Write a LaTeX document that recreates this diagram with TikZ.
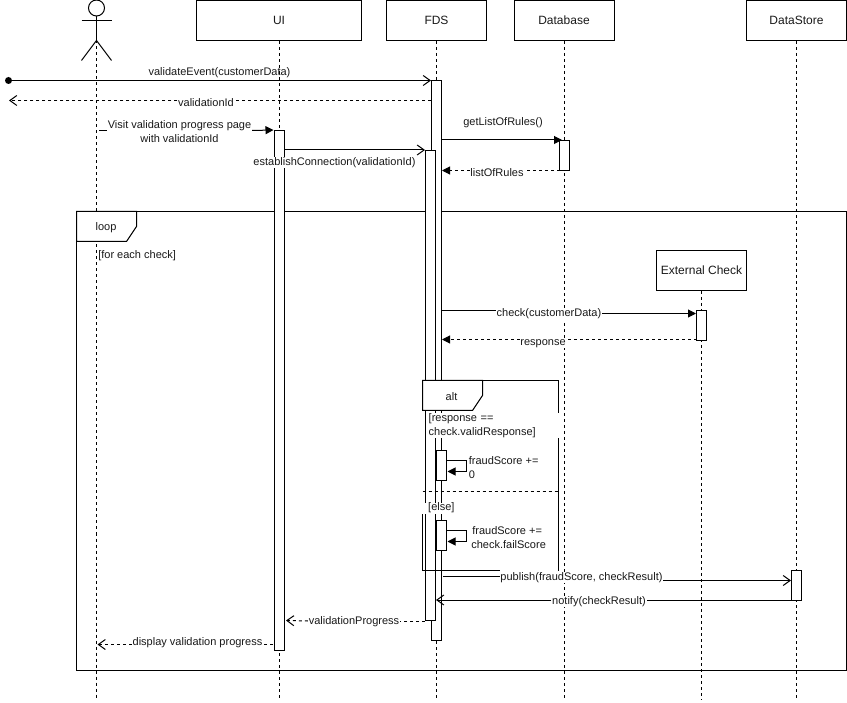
\documentclass[tikz,border=0pt]{standalone}
\usepackage{fontspec}
\setmainfont{Liberation Sans}
\usetikzlibrary{arrows.meta}
\tikzset{
  x=1pt,y=-1pt,
  every node/.style={font=\fontsize{11}{14}\selectfont,text=black!90},
  ln/.style={draw=black,line width=1pt},
  life/.style={draw=black,line width=1pt,dash pattern=on 3pt off 3pt},
  headbox/.style={rectangle,draw=black,line width=1pt,fill=white,minimum height=40pt,inner sep=0pt,font=\fontsize{12}{14}\selectfont},
  actbox/.style={rectangle,draw=black,line width=1pt,fill=white,minimum width=10pt,inner sep=0pt},
  lbl/.style={fill=white,inner sep=0.6pt,align=center,yshift=-1.5pt},
  lbll/.style={fill=white,inner sep=0.6pt,align=left,yshift=-1.5pt},
  plain/.style={inner sep=0pt,align=center,yshift=-1.5pt},
  msg/.style={draw=black,line width=1pt},
  dmsg/.style={draw=black,line width=1pt,dash pattern=on 3pt off 3pt},
  opn/.style={-{Straight Barb[length=7pt,width=10pt,line width=1pt]}},
  sol/.style={-{Triangle[length=8pt,width=8pt]}},
}
\begin{document}
\begin{tikzpicture}[line join=miter]
\useasboundingbox (0,0) rectangle (847,703);
% actor
\node[circle,draw=black,line width=1pt,minimum size=16pt,inner sep=0pt] (head) at (96.5,8) {};
\coordinate (hip) at (96.5,40.5);
\coordinate (armL) at (81.5,20.5);
\coordinate (armR) at (111.5,20.5);
\coordinate (legL) at (81.5,60.5);
\coordinate (legR) at (111.5,60.5);
\draw[ln] (head.south) -- (hip);
\draw[ln] (armL) -- (armR);
\draw[ln] (legL) -- (hip) -- (legR);
% heads
\node[headbox,minimum width=165pt] (ui) at (279,20.5) {UI};
\node[headbox,minimum width=100pt] (fds) at (436.5,20.5) {FDS};
\node[headbox,minimum width=100pt] (db) at (564,20.5) {Database};
\node[headbox,minimum width=100pt] (ds) at (796.5,20.5) {DataStore};
\node[headbox,minimum width=90pt] (ext) at (701.5,270.5) {External Check};
% lifeline ends
\coordinate (actorEnd) at (96.5,700);
\coordinate (uiEnd) at (279,700);
\coordinate (fdsEnd) at (436.5,700);
\coordinate (dbEnd) at (564,700);
\coordinate (dsEnd) at (796.5,700);
\coordinate (extEnd) at (701.5,700);
\draw[life] (hip) -- (actorEnd);
\draw[life] (ui.south) -- (uiEnd);
\draw[life] (fds.south) -- (fdsEnd);
\draw[life] (db.south) -- (dbEnd);
\draw[life] (ds.south) -- (dsEnd);
\draw[life] (ext.south) -- (extEnd);
% loop frame
\coordinate (lpTL) at (76.5,211.5);
\coordinate (lpBR) at (846.5,670.5);
\draw[ln] (lpTL) rectangle (lpBR);
\coordinate (lpT) at (136.5,211.5);
\coordinate (lpC) at (136.5,226.5);
\coordinate (lpD) at (126.5,241.5);
\coordinate (lpL) at (76.5,241.5);
\draw[ln,fill=white] (lpTL) -- (lpT) -- (lpC) -- (lpD) -- (lpL) -- cycle;
\node[plain] (loopT) at (106,226) {loop};
\node[lbll,anchor=west] (forEach) at (97.5,254) {[for each check]};
% activations
\node[actbox,minimum height=520pt,draw=black] (uiA) at (279,390.5) {};
\node[actbox,minimum height=560pt] (fdsA) at (436.5,360.5) {};
\node[actbox,minimum height=470pt] (fdsB) at (430.5,385.5) {};
\node[actbox,minimum height=30pt] (dbA) at (564.5,155.5) {};
\node[actbox,minimum height=30pt] (extA) at (701.5,325.5) {};
\node[actbox,minimum height=30pt] (dsA) at (796.5,585.5) {};
% alt frame
\coordinate (altTL) at (422.5,380.5);
\coordinate (altTR) at (558.5,380.5);
\coordinate (altBR) at (558.5,570.5);
\coordinate (altBL) at (422.5,570.5);
\coordinate (altBM) at (500,570.5);
\coordinate (altT) at (482.5,380.5);
\coordinate (altC) at (482.5,395.5);
\coordinate (altD) at (472.5,410.5);
\coordinate (altL) at (422.5,410.5);
\coordinate (divL) at (422.5,492);
\coordinate (divR) at (558.5,492);
\coordinate (altLow) at (422.5,513);
\draw[ln] (altTL) -- (altTR) -- (altBR);
\draw[ln] (altLow) -- (altBL) -- (altBM);
\draw[ln,fill=white] (altTL) -- (altT) -- (altC) -- (altD) -- (altL) -- cycle;
\draw[dmsg] (divL) -- (divR);
\node[plain] (altTx) at (451.5,395) {alt};
\node[lbll,anchor=north west,inner xsep=1pt,inner ysep=0pt,yshift=0pt,minimum height=25pt,text width=130pt] (resp) at (427.5,411) {[response ==\\check.validResponse]};
\node[lbll,anchor=west,inner xsep=0pt,inner ysep=0pt,yshift=0pt,text height=8.5pt,text depth=2.5pt,text width=34pt] (els) at (422,507.5) {\hspace{6pt}\raisebox{1.5pt}{[else]}};
% inner activations
\node[actbox,minimum height=30pt] (a1) at (441.5,465.5) {};
\node[actbox,minimum height=30pt] (a2) at (441.5,535.5) {};
% labels
\node[plain] (lVal) at (219.5,71) {validateEvent(customerData)};
\node[lbl] (lId) at (206,101) {validationId};
\node[lbl] (lVisit) at (179.5,130) {Visit validation progress page\\with validationId};
\node[lbl] (lConn) at (334.5,161) {establishConnection(validationId)};
\node[plain] (lRules) at (503,121) {getListOfRules()};
\node[lbl] (lList) at (497,171) {listOfRules};
\node[lbl] (lCheck) at (549,312.5) {check(customerData)};
\node[lbl] (lResp) at (543,342) {response};
\node[lbll,anchor=west] (lF1) at (468,466) {fraudScore +=\\0};
\node[lbll,anchor=west] (lF2) at (470.5,536) {\hspace{1pt}fraudScore +=\\check.failScore};
\node[lbl] (lPub) at (581.5,576) {publish(fraudScore, checkResult)};
\node[lbl] (lNot) at (599,600) {notify(checkResult)};
\node[lbl] (lProg) at (354,620) {validationProgress};
\node[lbl] (lDisp) at (197.5,641.5) {display validation progress};
% messages
\node[circle,fill=black,minimum size=7pt,inner sep=0pt] (dot) at (8.5,80.5) {};
\coordinate (idEnd) at (9,100.5);
\draw[msg,opn] (dot) -- (fdsA.west |- dot);
\draw[dmsg] (fdsA.west |- idEnd) -- (lId.east |- idEnd);
\draw[dmsg,opn] (lId.west |- idEnd) -- (idEnd);
\coordinate (vS) at (99,130.5);
\draw[msg] (vS) -- (lVisit.west |- vS);
\draw[msg,sol] (lVisit.east |- vS) -- (uiA.north west);
\coordinate (cS) at (284,150);
\draw[msg,opn] (cS) -- (fdsB.west |- cS);
\draw[msg,sol] (fdsA.east |- dbA.north) -- ([xshift=3pt]dbA.north west);
\coordinate (listS) at (559.5,170.5);
\draw[dmsg] (listS) -- (lList.east |- listS);
\draw[dmsg,sol] (lList.west |- listS) -- (442,170.5);
\coordinate (c1) at (441.5,310.5);
\coordinate (c2) at (lCheck.west |- c1);
\draw[msg] (c1) -- (c2);
\coordinate (c3) at (lCheck.east |- 0,313.5);
\draw[msg,sol] (c3) -- (extA.west |- c3);
\coordinate (r1) at (696.5,339.5);
\draw[dmsg] (r1) -- (lResp.east |- r1);
\draw[dmsg,sol] (lResp.west |- r1) -- (442,339.5);
% self calls
\coordinate (s1a) at (446.5,460.5);
\coordinate (s1b) at (466.5,460.5);
\coordinate (s1c) at (466.5,471.5);
\coordinate (s1d) at (447.5,471.5);
\draw[msg,sol] (s1a) -- (s1b) -- (s1c) -- (s1d);
\coordinate (s2a) at (446.5,530.5);
\coordinate (s2b) at (466.5,530.5);
\coordinate (s2c) at (466.5,541.5);
\coordinate (s2d) at (447.5,541.5);
\draw[msg,sol] (s2a) -- (s2b) -- (s2c) -- (s2d);
% publish, notify
\coordinate (p1) at (443,576.5);
\draw[msg] (p1) -- (lPub.west |- p1);
\coordinate (p2) at (lPub.east |- 0,580.5);
\draw[msg,opn] (p2) -- (dsA.west |- p2);
\coordinate (n1) at (791.5,600);
\draw[msg] (n1) -- (lNot.east |- n1);
\draw[msg,opn] (lNot.west |- n1) -- (436,600);
% progress
\coordinate (g1) at (fdsB.south west);
\draw[dmsg] (g1) -- (lProg.east |- g1);
\draw[dmsg,opn] (lProg.west |- g1) -- (286,620.5);
\coordinate (d1) at (273,644.5);
\draw[dmsg] (d1) -- (lDisp.east |- d1);
\draw[dmsg,opn] (lDisp.west |- d1) -- (97.5,644.5);
\end{tikzpicture}
\end{document}
